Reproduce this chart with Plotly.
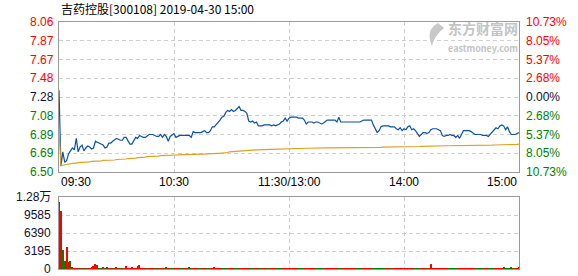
import plotly.graph_objects as go

W, H = 578, 276

# ---------------- data ----------------
title_text = "吉药控股[300108] 2019-04-30 15:00"
time_labels = ["09:30", "10:30", "11:30/13:00", "14:00", "15:00"]
time_label_pos = [0, 60, 120, 180, 240]

price_tickvals = [8.06, 7.865, 7.67, 7.475, 7.28, 7.085, 6.89, 6.695, 6.50]
price_ticktext = ["8.06", "7.87", "7.67", "7.48", "7.28", "7.08", "6.89", "6.69", "6.50"]
pct_ticktext = ["10.73%", "8.05%", "5.37%", "2.68%", "0.00%", "2.68%", "5.37%", "8.05%", "10.73%"]
label_side = ["up", "up", "up", "up", "flat", "down", "down", "down", "down"]

vol_tickvals = [12780, 9585, 6390, 3195, 0]
vol_ticktext = ["1.28万", "9585", "6390", "3195", "0"]

price = [
    7.35, 6.56, 6.71, 6.60, 6.62, 6.69, 6.72, 6.75, 6.73, 6.85,
    6.71, 6.76, 6.78, 6.72, 6.75, 6.77, 6.76, 6.74, 6.75, 6.82,
    6.81, 6.80, 6.79, 6.78, 6.75, 6.76, 6.80, 6.80, 6.82, 6.84,
    6.85, 6.84, 6.83, 6.83, 6.86, 6.86, 6.83, 6.79, 6.79, 6.82,
    6.86, 6.85, 6.88, 6.87, 6.86, 6.86, 6.88, 6.89, 6.89, 6.89,
    6.88, 6.87, 6.87, 6.89, 6.86, 6.89, 6.87, 6.82, 6.87, 6.89,
    6.90, 6.86, 6.87, 6.88, 6.88, 6.88, 6.88, 6.88, 6.88, 6.86,
    6.92, 6.91, 6.91, 6.91, 6.91, 6.92, 6.93, 6.91, 6.91, 6.93,
    6.97, 6.97, 6.99, 7.01, 7.04, 7.07, 7.08, 7.12, 7.14, 7.13,
    7.15, 7.13, 7.14, 7.16, 7.18, 7.14, 7.14, 7.13, 7.11, 7.03,
    7.02, 7.03, 7.01, 7.02, 6.98, 6.98, 6.98, 6.99, 6.99, 6.99,
    6.99, 6.98, 6.99, 6.98, 6.99, 7.00, 7.02, 7.03, 7.06, 7.03,
    7.06, 7.07, 7.07, 7.07, 7.07, 7.06, 7.06, 7.06, 7.04, 7.00,
    7.02, 7.02, 7.02, 7.01, 7.02, 7.02, 7.01, 7.00, 7.01, 7.03,
    7.04, 7.04, 7.04, 7.04, 7.04, 7.02, 7.07, 7.02, 7.02, 7.02,
    7.02, 7.02, 7.02, 7.02, 7.02, 7.02, 7.02, 7.02, 7.03, 7.04,
    7.04, 7.04, 7.04, 7.04, 6.99, 6.95, 6.91, 6.93, 6.97, 6.98,
    6.98, 6.98, 6.98, 6.97, 6.97, 6.97, 6.95, 6.94, 6.96, 6.93,
    6.95, 6.94, 6.97, 6.98, 6.94, 6.95, 6.93, 6.90, 6.87, 6.89,
    6.91, 6.91, 6.90, 6.91, 6.94, 6.95, 6.95, 6.95, 6.94, 6.93,
    6.88, 6.87, 6.88, 6.88, 6.89, 6.88, 6.88, 6.86, 6.88, 6.85,
    6.89, 6.93, 6.93, 6.93, 6.93, 6.92, 6.90, 6.89, 6.89, 6.89,
    6.89, 6.88, 6.88, 6.88, 6.87, 6.89, 6.92, 6.94, 6.96, 6.95,
    6.98, 6.99, 6.98, 6.94, 6.97, 6.92, 6.89, 6.89, 6.89, 6.90,
    6.91,
]

avg_price = [
    6.95,
    6.57, 6.57, 6.575, 6.58,
    6.585, 6.585, 6.59, 6.59,
    6.595, 6.60, 6.60, 6.60, 6.60, 6.605, 6.605, 6.605, 6.61,
    6.61, 6.615, 6.615, 6.615, 6.615, 6.62, 6.62,
    6.62, 6.625, 6.625, 6.625, 6.625, 6.63, 6.63,
    6.63, 6.635, 6.635, 6.635, 6.64, 6.64, 6.64,
    6.645, 6.645, 6.65, 6.65, 6.65, 6.655,
    6.655, 6.66, 6.66, 6.66, 6.665, 6.665, 6.665, 6.665, 6.67, 6.67,
    6.67, 6.67, 6.675, 6.675, 6.675, 6.675,
    6.677, 6.678, 6.678, 6.679, 6.68,
    6.68, 6.682, 6.682, 6.683, 6.683, 6.684, 6.684, 6.685, 6.685, 6.686, 6.686, 6.687, 6.688, 6.689, 6.69,
    6.691, 6.692, 6.693, 6.694, 6.695, 6.697, 6.699,
    6.703,
    6.71, 6.712, 6.714, 6.715, 6.716, 6.718, 6.719, 6.72, 6.721,
    6.724, 6.726, 6.727, 6.728, 6.729, 6.73, 6.731,
    6.733, 6.734, 6.734, 6.735, 6.735, 6.736, 6.736, 6.737, 6.737, 6.738, 6.738, 6.738, 6.739, 6.739, 6.74, 6.74,
    6.741, 6.742, 6.743, 6.744, 6.745,
    6.746, 6.746, 6.747, 6.747, 6.747, 6.748, 6.748, 6.748, 6.749, 6.749,
    6.749, 6.749, 6.75, 6.75, 6.75, 6.75, 6.75, 6.751, 6.751, 6.751,
    6.751, 6.751, 6.752, 6.752, 6.752, 6.752, 6.752, 6.752, 6.753, 6.753,
    6.753, 6.753, 6.753, 6.753, 6.754, 6.754, 6.754, 6.754,
    6.755, 6.756, 6.757, 6.757, 6.757, 6.758, 6.758, 6.758, 6.758, 6.759,
    6.759, 6.759, 6.759, 6.759, 6.76, 6.76, 6.76, 6.76, 6.76, 6.761,
    6.761, 6.761, 6.762, 6.763,
    6.765, 6.767, 6.768, 6.769, 6.77, 6.771, 6.771, 6.772, 6.772, 6.772,
    6.772, 6.772, 6.773, 6.773, 6.773, 6.773, 6.773, 6.773, 6.773, 6.774,
    6.774, 6.774, 6.774, 6.774, 6.775, 6.775, 6.775, 6.775, 6.775, 6.775,
    6.776, 6.776, 6.776, 6.776, 6.776, 6.777, 6.777,
    6.779, 6.78, 6.781, 6.781, 6.782, 6.782, 6.783, 6.783, 6.784, 6.784, 6.785, 6.785, 6.786, 6.787, 6.788,
    6.79,
]

volume = [
    11830, 10350, 3430, 1480, 3960, 1300, 1480, 300, 80, 60,
    60, 80, 60, 60, 60, 80, 60, 300, 470, 950,
    650, 100, 100, 200, 80, 300, 60, 60, 60, 60,
    300, 60, 60, 80, 60, 470, 80, 60, 300, 100,
    80, 470, 650, 100, 60, 60, 80, 60, 60, 60,
    80, 60, 60, 60, 60, 80, 200, 60, 150, 150,
    80, 60, 60, 60, 80, 60, 60, 60, 230, 60,
    60, 80, 60, 60, 60, 60, 60, 80, 60, 60,
    60, 410, 60, 60, 80, 100, 60, 60, 60, 60,
    60, 80, 60, 60, 100, 60, 60, 60, 60, 60,
    80, 150, 60, 60, 60, 80, 60, 60, 60, 60,
    60, 60, 60, 80, 60, 60, 60, 60, 80, 60,
    60, 60, 60, 60, 60, 60, 80, 60, 60, 60,
    60, 60, 60, 60, 60, 60, 60, 60, 60, 60,
    60, 60, 60, 60, 60, 60, 60, 80, 60, 60,
    60, 60, 60, 60, 60, 60, 60, 60, 60, 60,
    60, 60, 60, 60, 60, 60, 60, 60, 60, 60,
    60, 60, 60, 60, 60, 60, 60, 60, 80, 60,
    60, 60, 60, 60, 60, 60, 150, 150, 100, 60,
    60, 60, 60, 60, 940, 60, 80, 60, 60, 60,
    60, 60, 60, 60, 60, 60, 60, 60, 60, 60,
    60, 60, 60, 60, 60, 60, 60, 60, 60, 60,
    60, 60, 60, 60, 60, 60, 60, 60, 60, 60,
    100, 110, 410, 60, 60, 80, 230, 60, 80, 60,
    230,
]

vol_dir = (
    "grggrrgrrr" "grgrgrrgrr" "rggrggrrgr" "rgrgrrrrrr" "rgrrrrgrrr"
    "grgrrgrrgg" "rrrgggrrgg" "rrrggrrggr" "rrrrrgggrr" "rrgggrrrrr"
    "ggrrggrrgg" "rrrrgggrrr" "rrrrrgggrr" "rrrrgggggr" "rrrrrrggrr"
    "rrrrrgggrr" "rrrrgggggg" "grrgrrrrrr" "rrrrrrgggr" "rrgrrrrrrr"
    "rrrgggggrr" "rrrrrrrrgg" "ggrrgggrrr" "rrgrgggrgr" "r"
)

assert len(price) == 241, len(price)
assert len(avg_price) == 241, len(avg_price)
assert len(volume) == 241, len(volume)
assert len(vol_dir) == 241, len(vol_dir)

minutes = list(range(241))

# ---------------- styles ----------------
RED = "#ff0000"
GREEN = "#008000"
DARK = "#101030"
GRID = "#cfcfcf"
BORDER = "#9a9a9a"
FONT = "Liberation Sans, Arial, sans-serif"

def px_x(p):
    return p / W

def px_y(p):
    return 1 - p / H

side_color = {"up": RED, "flat": DARK, "down": GREEN}

fig = go.Figure()

fig.add_trace(go.Scatter(
    x=minutes, y=price, mode="lines",
    line=dict(color="#0c52a6", width=1.2),
    xaxis="x", yaxis="y", hoverinfo="skip",
))
fig.add_trace(go.Scatter(
    x=minutes, y=avg_price, mode="lines",
    line=dict(color="#e0a020", width=1.2),
    xaxis="x", yaxis="y", hoverinfo="skip",
))
fig.add_trace(go.Bar(
    x=minutes, y=volume,
    marker=dict(color=[RED if d == "r" else GREEN for d in vol_dir], line=dict(width=0)),
    width=0.55,
    xaxis="x2", yaxis="y2", hoverinfo="skip",
))

xdom = [px_x(59), px_x(519)]
axis_common = dict(
    showline=True, linecolor=BORDER, linewidth=1, mirror=True,
    showgrid=True, gridcolor=GRID, gridwidth=1, griddash="4px,3px",
    zeroline=False, ticks="", showticklabels=False, fixedrange=True,
)

fig.update_layout(
    width=W, height=H,
    margin=dict(l=0, r=0, t=0, b=0),
    paper_bgcolor="white", plot_bgcolor="white",
    showlegend=False,
    bargap=0,
    xaxis=dict(domain=xdom, range=[0, 240], tickvals=[60, 120, 180], anchor="y", **axis_common),
    yaxis=dict(domain=[px_y(172), px_y(22)], range=[6.50, 8.06], tickvals=price_tickvals, anchor="x", **axis_common),
    xaxis2=dict(domain=xdom, range=[0, 240], tickvals=[60, 120, 180], anchor="y2", matches="x", **axis_common),
    yaxis2=dict(domain=[px_y(269), px_y(197)], range=[0, 12780], tickvals=vol_tickvals, anchor="x2", **axis_common),
)

ann = []
ann.append(dict(text=title_text, x=px_x(59), y=px_y(8.5), xref="paper", yref="paper",
                xanchor="left", yanchor="middle", showarrow=False,
                font=dict(family="Noto Sans CJK SC", size=12, color="#000000")))

for v, t, p, s in zip(price_tickvals, price_ticktext, pct_ticktext, label_side):
    c = side_color[s]
    ann.append(dict(text=t, x=px_x(56), y=v, xref="paper", yref="y",
                    xanchor="right", yanchor="middle", showarrow=False,
                    font=dict(family=FONT, size=12, color=c)))
    ann.append(dict(text=p, x=px_x(524), y=v, xref="paper", yref="y",
                    xanchor="left", yanchor="middle", showarrow=False,
                    font=dict(family=FONT, size=12, color=c)))

for v, t in zip(vol_tickvals, vol_ticktext):
    ann.append(dict(text=t, x=px_x(53), y=v, xref="paper", yref="y2",
                    xanchor="right", yanchor="middle", showarrow=False,
                    font=dict(family="Liberation Sans, Noto Sans CJK SC", size=12, color=DARK)))

anchors = ["left", "center", "center", "center", "right"]
for pos, t, a in zip(time_label_pos, time_labels, anchors):
    ann.append(dict(text=t, x=pos, y=px_y(182), xref="x", yref="paper",
                    xanchor=a, yanchor="middle", showarrow=False,
                    font=dict(family=FONT, size=12, color="#000000")))

# watermark (single block so the two lines never collide)
ann.append(dict(
    text="<b>东方财富网</b><br><span style='font-size:9px'><b>eastmoney.com</b></span>",
    x=px_x(519), y=px_y(36), xref="paper", yref="paper",
    xanchor="right", yanchor="middle", align="right", showarrow=False, borderpad=0,
    font=dict(family="Noto Sans CJK SC", size=14, color="#c4c4c4")))

fig.update_layout(annotations=ann)

# watermark logo (simple leaf-like swoosh)
def P(x, y):
    return f"{px_x(x)},{px_y(y)}"

logo_path = ("M " + P(438, 23) + " Q " + P(425, 30) + " " + P(432, 46) +
             " Q " + P(434, 36) + " " + P(444, 28) + " Z")
fig.add_shape(type="path", path=logo_path, xref="paper", yref="paper",
              fillcolor="#c8c8c8", line=dict(width=0), layer="above")

fig.write_html("out.html")
